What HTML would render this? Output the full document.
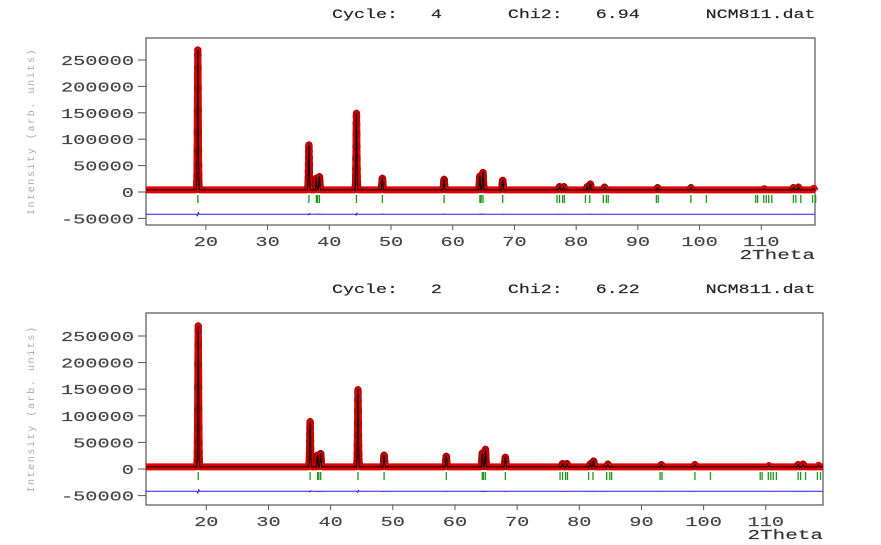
<!DOCTYPE html>
<html><head><meta charset="utf-8"><style>
body{margin:0;background:#fff;width:881px;height:545px;overflow:hidden}
svg{display:block}
text{font-family:"Liberation Mono",monospace}
</style></head><body>
<svg id="c" width="881" height="545"></svg>
<script>
const peakPos=[18.7,36.7,37.9,38.4,44.4,48.6,58.6,64.4,64.9,68.1,77.3,78.0,81.8,82.3,84.6,93.2,98.6,110.5,115.2,116.0,118.5];
const peakInt=[265000,85000,22000,25000,145000,22000,20000,26000,33000,18000,6000,6000,6000,11000,5000,4000,4000,2500,4000,5000,3000];
const braggPos=[18.7,36.7,37.9,38.1,38.4,44.4,48.6,58.6,64.4,64.6,64.9,68.1,76.9,77.3,77.8,78.1,81.5,82.2,84.4,84.9,85.2,93.0,93.3,98.6,101.1,109.1,109.4,110.4,110.8,111.2,111.7,115.2,115.6,116.4,118.3,118.8];
const yTicks=[250000,200000,150000,100000,50000,0,-50000];
const xTicks=[20,30,40,50,60,70,80,90,100,110];
const background=4000;
const diffOffset=-42000;
const panels=[
 {name:'top',cycle:'4',chi:'6.94',x0:146,x1:815,yt:38,yb:225,y0:192,y250:60,xmin:10.3,xmax:118.7,title:18},
 {name:'bottom',cycle:'2',chi:'6.22',x0:146,x1:823,yt:313,yb:505,y0:469,y250:336,xmin:10.3,xmax:119.2,title:293}
];
const NS='http://www.w3.org/2000/svg';
const svg=document.getElementById('c');
function mk(t,a,p){const e=document.createElementNS(NS,t);for(const k in a)e.setAttribute(k,a[k]);(p||svg).appendChild(e);return e;}
function wideText(parent,x,y,str,anchor,size,fill,sc){
 const t=mk('text',{x:0,y:0,'font-size':size,'text-anchor':anchor,fill:fill,style:'white-space:pre','stroke':fill,'stroke-width':0.15,transform:`translate(${x},${y}) scale(${sc},1)`},parent);
 t.textContent=str;return t;}
const W=0.075;
function calc(x){let s=background;for(let i=0;i<peakPos.length;i++){const d=(x-peakPos[i])/W;s+=peakInt[i]*Math.exp(-d*d*0.5);}return s;}
panels.forEach(p=>{
 const g=mk('g',{});
 
 
 const sx=v=>p.x0+(v-p.xmin)/(p.xmax-p.xmin)*(p.x1-p.x0);
 const sy=v=>p.y0-(v/250000)*(p.y0-p.y250);
 const t=wideText(g,332,p.title,'Cycle:   '+p.cycle+'      Chi2:   '+p.chi+'      NCM811.dat','start',13,'#222',1.41);
 
 
 const fr=mk('rect',{x:p.x0,y:p.yt,width:p.x1-p.x0,height:p.yb-p.yt,fill:'none',stroke:'#555','stroke-width':1.2},g);
 
 
 yTicks.forEach(v=>{const y=sy(v);mk('line',{x1:p.x0-8,x2:p.x0,y1:y,y2:y,stroke:'#555'},g);
  const l=wideText(g,p.x0-12,y+5,String(v),'end',14,'#444',1.45);
  
  });
 xTicks.forEach(v=>{const x=sx(v);mk('line',{x1:x,x2:x,y1:p.yb,y2:p.yb+5,stroke:'#555'},g);
  const l=wideText(g,x,p.yb+21,String(v),'middle',14,'#444',1.45);
  
  });
 const xl=wideText(g,p.x1,p.yb+34,'2Theta','end',14,'#333',1.5);
 
 
 const yl=mk('text',{x:0,y:0,'font-size':10,fill:'#aaa','text-anchor':'middle','letter-spacing':1.6,transform:`translate(34,${(p.yt+p.yb)/2}) rotate(-90)`},g);
 yl.textContent='Intensity (arb. units)';
 
 
 let pts=[],dpts=[];
 for(let x=p.xmin;x<=p.xmax;x+=0.01){pts.push(sx(x).toFixed(1)+','+sy(calc(x)).toFixed(1));
  let d=0;for(let i=0;i<peakPos.length;i++){const q=(x-peakPos[i])/W;d+=peakInt[i]*0.02*q*Math.exp(-q*q*0.5);}
  dpts.push(sx(x).toFixed(1)+','+sy(diffOffset+d).toFixed(1));}
 const ob=mk('polyline',{points:pts.join(' '),fill:'none',stroke:'#e00000','stroke-width':7,'stroke-linejoin':'round'},g);
 
 
 for(let x=p.xmin;x<=p.xmax;x+=0.02){const v=calc(x);if(v>background+3000){const c=mk('circle',{cx:sx(x),cy:sy(v),r:3.4,fill:'#d00000',stroke:'#900','stroke-width':0.5},g);
  
  }}
 const cl=mk('polyline',{points:pts.join(' '),fill:'none',stroke:'#000','stroke-width':1},g);
 
 
 braggPos.forEach(b=>{const x=sx(b);const m=mk('line',{x1:x,x2:x,y1:p.y0+3,y2:p.y0+11,stroke:'#1a9a1a','stroke-width':1.3},g);
  
  });
 const df=mk('polyline',{points:dpts.join(' '),fill:'none',stroke:'#2020ff','stroke-width':1},g);
 
 
});
</script>
</body></html>
